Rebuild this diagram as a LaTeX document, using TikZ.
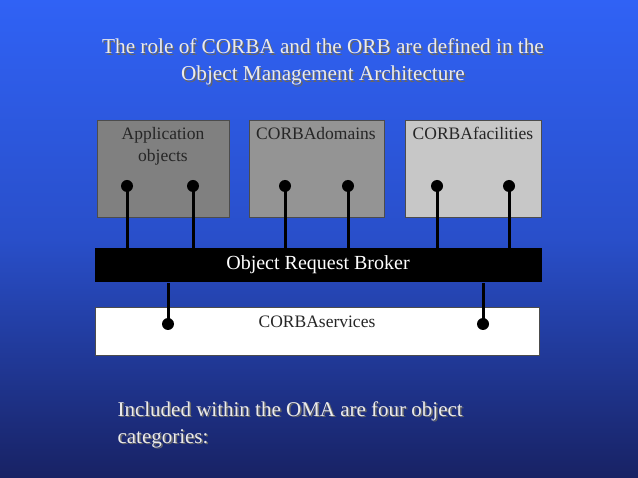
\documentclass[tikz,border=0pt]{standalone}
\usepackage{fontspec}
\setmainfont{Liberation Serif}
\begin{document}
\begin{tikzpicture}[x=1pt,y=-1pt,
 box/.style={draw=black!70,line width=0.6pt,anchor=north west,inner sep=0pt},
 lbl/.style={font=\fontsize{17.5}{22}\selectfont,text=black!85,align=center,anchor=north},
 pin/.style={circle,fill=black,inner sep=0pt,minimum size=12pt},
 wire/.style={line width=3pt},
 ttl/.style={font=\fontsize{21.2}{27}\selectfont,text=black!8,align=center}]
\definecolor{bgtop}{RGB}{48,98,245}
\definecolor{bgbot}{RGB}{24,34,100}
\shade[top color=bgtop,bottom color=bgbot,middle color=bgtop!70!bgbot] (0,0) rectangle (638,478);
\useasboundingbox (0,0) rectangle (638,478);
% title
\node[ttl,text=black!60] at (324.5,63.5) {The role of CORBA and the ORB are defined in the\\Object Management Architecture};
\node[ttl] (title) at (323,62) {The role of CORBA and the ORB are defined in the\\Object Management Architecture};
% boxes
\node[box,fill=black!50,minimum width=132pt,minimum height=97pt] (app) at (97,120) {};
\node[box,fill=black!42,minimum width=135pt,minimum height=97pt] (dom) at (249,120) {};
\node[box,fill=black!22,minimum width=136pt,minimum height=97pt] (fac) at (405,120) {};
\node[lbl] at (163,124) {Application\\objects};
\node[lbl] at (316,124) {CORBAdomains};
\node[lbl] at (473,124) {CORBAfacilities};
\node[box,fill=white,minimum width=444pt,minimum height=48pt] (svc) at (95,307) {};
\node[lbl] at (317,312) {CORBAservices};
\node[box,draw=none,fill=black,minimum width=447pt,minimum height=34pt] (orb) at (95,248) {};
\node[font=\fontsize{20}{24}\selectfont,text=white] at (318,265) {Object Request Broker};
% pins
\foreach \n/\x in {a1/127,a2/193,d1/285,d2/348,f1/437,f2/509}{
  \node[pin] (\n) at (\x,186) {};
  \draw[wire] (\n.center) -- (\n.center |- orb.north);
}
\foreach \n/\x in {s1/168,s2/483}{
  \node[pin] (\n) at (\x,324) {};
  \draw[wire] (\n.center) -- (\n.center |- orb.south);
}
% bottom text
\node[ttl,align=left,anchor=north west,font=\fontsize{21}{27}\selectfont,text=black!60] at (115.5,399.5) {Included within the OMA are four object\\categories:};
\node[ttl,align=left,anchor=north west,font=\fontsize{21}{27}\selectfont] (inc) at (114,398) {Included within the OMA are four object\\categories:};
\end{tikzpicture}
\end{document}
